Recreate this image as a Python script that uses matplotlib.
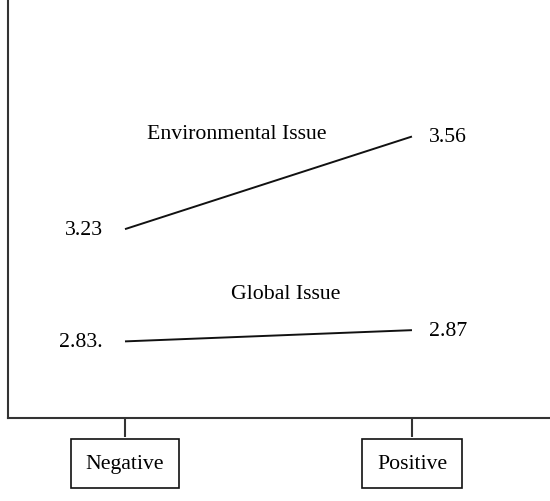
import matplotlib.pyplot as plt

# data
conditions = ['Negative', 'Positive']
issues = ['Environmental Issue', 'Global Issue']
environmental = [3.23, 3.56]
global_issue = [2.83, 2.87]
value_labels = {
    'Environmental Issue': ['3.23', '3.56'],
    'Global Issue': ['2.83.', '2.87'],
}

plt.rcParams['font.family'] = ['Liberation Serif', 'DejaVu Serif']
fs = 15.7

fig = plt.figure(figsize=(5.5, 5.02), dpi=100)
ax = fig.add_axes([8 / 550, 83 / 502, 542 / 550, 419 / 502])

x = list(range(len(conditions)))
series = {'Environmental Issue': environmental, 'Global Issue': global_issue}

for name, vals in series.items():
    ax.plot(x, vals, color='#111111', lw=1.4, solid_capstyle='butt')
    left, right = value_labels[name]
    ax.annotate(left, (x[0], vals[0]), xytext=(-16, 0), textcoords='offset points',
                ha='right', va='center', fontsize=fs)
    ax.annotate(right, (x[1], vals[1]), xytext=(12, 0), textcoords='offset points',
                ha='left', va='center', fontsize=fs)

# series names
ax.text(0.4225, 0.68, issues[0], transform=ax.transAxes, ha='center', va='center', fontsize=fs)
ax.text(0.513, 0.298, issues[1], transform=ax.transAxes, ha='center', va='center', fontsize=fs)

ax.set_xlim(-0.4077, 1.481)
ax.set_ylim(2.557, 4.05)

ax.set_xticks(x)
ax.set_xticklabels(conditions, fontsize=fs)
ax.set_yticks([])
ax.tick_params(axis='x', direction='out', length=13.7, width=1.5, color='#333333', pad=12)
for lbl in ax.get_xticklabels():
    lbl.set_bbox(dict(boxstyle='square,pad=0.68', fc='white', ec='#111111', lw=1.2))

for side in ['top', 'right']:
    ax.spines[side].set_visible(False)
for side in ['left', 'bottom']:
    ax.spines[side].set_color('#333333')
    ax.spines[side].set_linewidth(1.5)

fig.savefig('out.png', dpi=100)
